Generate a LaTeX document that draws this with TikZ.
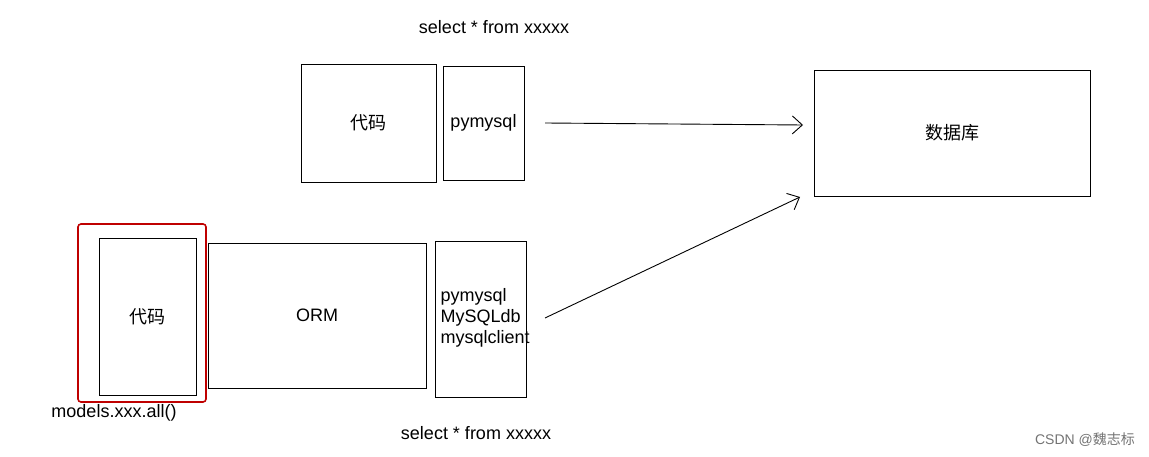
\documentclass[tikz,border=0pt]{standalone}
\usepackage{fontspec}
\setmainfont{Liberation Sans}
\newfontfamily\cjk{Noto Sans CJK SC}
\usetikzlibrary{arrows.meta}
\tikzset{
  box/.style={draw, line width=0.9pt, inner sep=0pt},
  lbl/.style={font=\fontsize{18}{21}\selectfont},
  link/.style={-{Straight Barb[length=10pt,width=18pt]}, line width=0.9pt}
}
\begin{document}
\begin{tikzpicture}[x=1pt,y=-1pt]
				\useasboundingbox (0,0) rectangle (1149,457);
				% Top row
				\node[box, minimum width=135pt, minimum height=118pt, lbl] (code1) at (368.5,123) {\cjk 代码};
				\node[box, minimum width=81pt, minimum height=114pt, lbl] (drv1) at (483.5,123) {pymysql};
				\node[box, minimum width=276pt, minimum height=126pt, lbl] (db) at (952,133) {\cjk 数据库};
				\node[lbl] (sql1) at (494,27) {select * from xxxxx};
				% Bottom row
				\draw[red!75!black, line width=1.6pt, rounded corners=3pt] (78,224) rectangle (206,402);
				\node[box, minimum width=97pt, minimum height=157pt, lbl] (code2) at (147.5,316.5) {\cjk 代码};
				\node[box, minimum width=218pt, minimum height=145pt, lbl] (orm) at (317,315.5) {ORM};
				\node[box, minimum width=91pt, minimum height=156pt] (drv2) at (480.5,319) {};
				\node[lbl, align=left, anchor=west] (libs) at (437,318) {pymysql\\MySQLdb\\mysqlclient};
				\node[lbl] (sql2) at (476,433) {select * from xxxxx};
				\node[lbl] (call) at (114,413) {models.xxx.all()};
				\node[font=\fontsize{14}{16}\selectfont, text=black!55] (mark) at (1085,440) {CSDN @\cjk 魏志标};
				% Connectors
				\coordinate (a1) at (545,123);
				\coordinate (b1) at (803,125);
				\coordinate (a2) at (545,318);
				\coordinate (b2) at (800,197);
				\draw[link] (a1) -- (b1);
				\draw[link] (a2) -- (b2);
\end{tikzpicture}
\end{document}
